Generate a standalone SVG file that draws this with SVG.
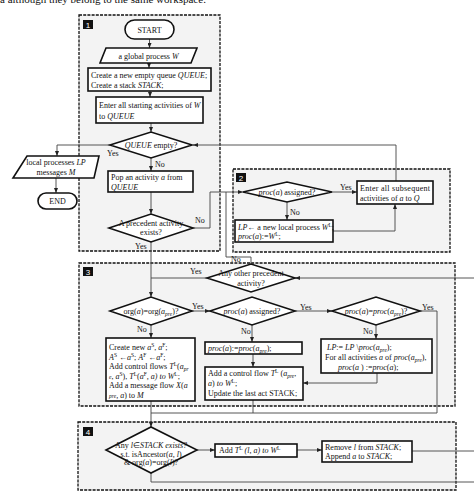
<svg xmlns="http://www.w3.org/2000/svg" width="474" height="491" viewBox="0 0 474 491">
<defs>
<marker id="ah" markerWidth="5" markerHeight="4" refX="5" refY="2" orient="auto" markerUnits="userSpaceOnUse">
<path d="M0,0 L5,2 L0,4 z" fill="#222"/>
</marker>
<style>
text{font-family:"Liberation Serif","Times New Roman",serif;font-size:8px;fill:#111}
.c{text-anchor:middle}
.i{font-style:italic}
.sec{fill:#f3f3f3;stroke:#111;stroke-width:1.3;stroke-dasharray:3 1.2}
.box{fill:#fff;stroke:#111;stroke-width:1.6}
.dia{fill:#fff;stroke:#111;stroke-width:1.6}
.lab{fill:#111}
.labt{fill:#fff;font-family:"Liberation Sans",Arial,sans-serif;font-size:8px;text-anchor:middle}
.cn{fill:none;stroke:#444;stroke-width:0.9}
.ca{fill:none;stroke:#444;stroke-width:0.9;marker-end:url(#ah)}
.sm{font-size:5.5px}
</style>
</defs>
<rect width="474" height="491" fill="#fff"/>
<text x="0" y="3" style="font-size:11px">a although they belong to the same workspace.</text>

<g id="section1">
<rect class="sec" x="79" y="15" width="141" height="236"/>
<rect class="lab" x="83" y="20" width="10" height="9"/><text class="labt" x="88" y="27.5">1</text>
</g>
<g id="section2">
<rect class="sec" x="233" y="169" width="217" height="83"/>
<rect class="lab" x="236" y="173" width="10" height="9"/><text class="labt" x="241" y="180.5">2</text>
</g>
<g id="section3">
<rect class="sec" x="79" y="263" width="376" height="143"/>
<rect class="lab" x="83" y="267" width="10" height="9"/><text class="labt" x="88" y="274.5">3</text>
</g>
<g id="section4">
<rect class="sec" x="78" y="422" width="378" height="68"/>
<rect class="lab" x="83" y="427" width="10" height="9"/><text class="labt" x="88" y="434.5">4</text>
</g>

<g id="connectors">
<path class="ca" d="M149.5,39 V48"/>
<path class="ca" d="M149,63 V68"/>
<path class="ca" d="M150,91 V97"/>
<path class="ca" d="M151,123 V132"/>
<path class="ca" d="M151,158 V171"/>
<path class="ca" d="M151,192 V214"/>
<path class="ca" d="M110,145 H57 V156"/>
<path class="ca" d="M56,178 V193"/>
<path class="ca" d="M396,181 V145 H193"/>
<path class="ca" d="M332,192 H357"/>
<path class="ca" d="M287,202 V220"/>
<path class="ca" d="M333,231 H395 V204"/>
<path class="ca" d="M193,228 H210 V192 H243"/>
<path class="cn" d="M251,264 V257 H226 V192"/>
<path class="ca" d="M474,278 H295"/>
<path class="cn" d="M207,278 H151"/>
<path class="ca" d="M151,242 V297"/>
<path class="ca" d="M192,311 H210"/>
<path class="ca" d="M295,311 H332"/>
<path class="cn" d="M420,311 H437 V413 H151"/>
<path class="ca" d="M151,325 V338"/>
<path class="ca" d="M252,325 V342"/>
<path class="ca" d="M376,325 V339"/>
<path class="ca" d="M253,354 V367"/>
<path class="ca" d="M377,373 V383 H303"/>
<path class="cn" d="M253,400 V413"/>
<path class="ca" d="M151,401 V427"/>
<path class="ca" d="M197,450 H215"/>
<path class="ca" d="M297,450 H322"/>
<path class="cn" d="M412,451 H474"/>
<path class="cn" d="M151,473 V482 H474"/>
<text x="107" y="156">Yes</text>
<text x="155" y="167">No</text>
<text x="195" y="223">No</text>
<text x="340" y="190">Yes</text>
<text x="290" y="215">No</text>
<text x="231" y="262">No</text>
<text x="135" y="249">Yes</text>
<text x="190" y="274">Yes</text>
<text x="192" y="309">Yes</text>
<text x="300" y="310">Yes</text>
<text x="422" y="310">Yes</text>
<text x="137" y="332">No</text>
<text x="241" y="334">No</text>
<text x="363" y="334">No</text>
</g>

<g id="start">
<rect class="box" x="125" y="20" width="49" height="19" rx="9.5"/>
<text class="c" x="149.5" y="33">START</text>
</g>
<g id="global-process">
<polygon class="box" points="106,48 197,48 191,63 100,63"/>
<text class="c" x="148.5" y="58.5">a global process <tspan class="i">W</tspan></text>
</g>
<g id="create-queue">
<rect class="box" x="88" y="68" width="123" height="23"/>
<text x="91" y="77.5">Create a new empty queue <tspan class="i">QUEUE</tspan>;</text>
<text x="91" y="88">Create a stack <tspan class="i">STACK</tspan>;</text>
</g>
<g id="enter-starting">
<rect class="box" x="96" y="97" width="107" height="26"/>
<text x="99" y="107.5">Enter all starting activities of <tspan class="i">W</tspan></text>
<text x="99" y="118.5">to <tspan class="i">QUEUE</tspan></text>
</g>
<g id="queue-empty">
<polygon class="dia" points="110,145 151,132 192,145 151,158"/>
<text class="c" x="151" y="148"><tspan class="i">QUEUE</tspan> empty?</text>
</g>
<g id="local-processes">
<polygon class="box" points="27,156 99,156 94,178 13,178"/>
<text class="c" x="56" y="165">local processes <tspan class="i">LP</tspan></text>
<text class="c" x="56" y="175">messages <tspan class="i">M</tspan></text>
</g>
<g id="end">
<rect class="box" x="38" y="193" width="39" height="16" rx="8"/>
<text class="c" x="57.5" y="204">END</text>
</g>
<g id="pop">
<rect class="box" x="108" y="171" width="85" height="21"/>
<text x="111" y="180">Pop an activity <tspan class="i">a</tspan> from</text>
<text x="111" y="189.5" class="i">QUEUE</text>
</g>
<g id="precedent-exists">
<polygon class="dia" points="109,228 151,214 193,228 151,242"/>
<text class="c" x="151" y="226">A precedent activity</text>
<text class="c" x="151" y="235">exists?</text>
</g>

<g id="proc-assigned-2">
<polygon class="dia" points="243,192 287,182 332,192 287,202"/>
<text class="c" x="287" y="195"><tspan class="i">proc</tspan>(<tspan class="i">a</tspan>) assigned?</text>
</g>
<g id="enter-subsequent">
<rect class="box" x="357" y="181" width="76" height="23"/>
<text x="360" y="190.5" textLength="70" lengthAdjust="spacing">Enter all subsequent</text>
<text x="360" y="200.5">activities of <tspan class="i">a</tspan> to <tspan class="i">Q</tspan></text>
</g>
<g id="new-local-process">
<rect class="box" x="235" y="220" width="98" height="22"/>
<text x="238" y="229.5"><tspan class="i">LP</tspan>← a new local process <tspan class="i">W</tspan><tspan class="sm" dy="-3">L</tspan><tspan dy="3">;</tspan></text>
<text x="238" y="239"><tspan class="i">proc</tspan>(<tspan class="i">a</tspan>):=<tspan class="i">W</tspan><tspan class="sm" dy="-3">L</tspan><tspan dy="3">;</tspan></text>
</g>

<g id="any-other-precedent">
<polygon class="dia" points="207,278 251,264 295,278 251,292"/>
<text class="c" x="251" y="276">Any other precedent</text>
<text class="c" x="251" y="286">activity?</text>
</g>
<g id="org-equal">
<polygon class="dia" points="110,311 151,297 192,311 151,325"/>
<text class="c" x="151" y="314">org(<tspan class="i">a</tspan>)=org(<tspan class="i">a</tspan><tspan class="sm i" dy="2">pre</tspan><tspan dy="-2">)?</tspan></text>
</g>
<g id="proc-assigned-3">
<polygon class="dia" points="210,311 252,297 295,311 252,325"/>
<text class="c" x="252" y="314"><tspan class="i">proc</tspan>(<tspan class="i">a</tspan>) assigned?</text>
</g>
<g id="proc-equal">
<polygon class="dia" points="332,311 376,297 420,311 376,325"/>
<text class="c" x="376" y="314"><tspan class="i">proc</tspan>(<tspan class="i">a</tspan>)=<tspan class="i">proc</tspan>(<tspan class="i">a</tspan><tspan class="sm i" dy="2">pre</tspan><tspan dy="-2">)?</tspan></text>
</g>
<g id="create-new">
<rect class="box" x="106" y="338" width="89" height="63"/>
<text x="109" y="350">Create new <tspan class="i">a</tspan><tspan class="sm" dy="-3">S</tspan><tspan dy="3">, </tspan><tspan class="i">a</tspan><tspan class="sm" dy="-3">F</tspan><tspan dy="3">;</tspan></text>
<text x="109" y="359.5"><tspan class="i">A</tspan><tspan class="sm" dy="-3">S</tspan><tspan dy="3"> ←</tspan><tspan class="i">a</tspan><tspan class="sm" dy="-3">S</tspan><tspan dy="3">; </tspan><tspan class="i">A</tspan><tspan class="sm" dy="-3">F</tspan><tspan dy="3"> ←</tspan><tspan class="i">a</tspan><tspan class="sm" dy="-3">F</tspan><tspan dy="3">;</tspan></text>
<text x="109" y="369">Add control flows <tspan class="i">T</tspan><tspan class="sm" dy="-3">L</tspan><tspan dy="3">(</tspan><tspan class="i">a</tspan><tspan class="sm i" dy="2">pr</tspan></text>
<text x="109" y="378.5"><tspan class="sm i">e</tspan>, <tspan class="i">a</tspan><tspan class="sm" dy="-3">S</tspan><tspan dy="3">), </tspan><tspan class="i">T</tspan><tspan class="sm" dy="-3">L</tspan><tspan dy="3">(</tspan><tspan class="i">a</tspan><tspan class="sm" dy="-3">F</tspan><tspan dy="3" class="i">, a) to W</tspan><tspan class="sm" dy="-3">L</tspan><tspan dy="3">;</tspan></text>
<text x="109" y="388">Add a message flow <tspan class="i">X</tspan>(<tspan class="i">a</tspan></text>
<text x="109" y="397.5"><tspan class="sm i">pre</tspan><tspan class="i">, a</tspan>) to <tspan class="i">M</tspan></text>
</g>
<g id="proc-assign-pre">
<rect class="box" x="205" y="342" width="97" height="12"/>
<text x="208" y="351"><tspan class="i">proc</tspan>(<tspan class="i">a</tspan>):=<tspan class="i">proc</tspan>(<tspan class="i">a</tspan><tspan class="sm i" dy="2">pre</tspan><tspan dy="-2">);</tspan></text>
</g>
<g id="add-control-flow">
<rect class="box" x="205" y="367" width="98" height="33"/>
<text x="208" y="376">Add a control flow <tspan class="i">T</tspan><tspan class="sm" dy="-3">L</tspan><tspan dy="3"> (</tspan><tspan class="i">a</tspan><tspan class="sm i" dy="2">pre</tspan><tspan dy="-2">,</tspan></text>
<text x="208" y="386"><tspan class="i">a</tspan>) <tspan class="i">to W</tspan><tspan class="sm" dy="-3">L</tspan><tspan dy="3">;</tspan></text>
<text x="208" y="396">Update the last act STACK;</text>
</g>
<g id="merge-processes">
<rect class="box" x="321" y="339" width="111" height="34"/>
<text x="327" y="350"><tspan class="i">LP</tspan>:= <tspan class="i">LP</tspan> \<tspan class="i">proc</tspan>(<tspan class="i">a</tspan><tspan class="sm i" dy="2">pre</tspan><tspan dy="-2">);</tspan></text>
<text x="325" y="360">For all activities <tspan class="i">a</tspan> of <tspan class="i">proc</tspan>(<tspan class="i">a</tspan><tspan class="sm i" dy="2">pre</tspan><tspan dy="-2">),</tspan></text>
<text x="338" y="370"><tspan class="i">proc</tspan>(<tspan class="i">a</tspan> ) :=<tspan class="i">proc</tspan>(<tspan class="i">a</tspan>);</text>
</g>

<g id="ancestor-check">
<polygon class="dia" points="106,450 151,427 197,450 151,473"/>
<text class="c" x="151" y="447.5">Any <tspan class="i">l</tspan>∈<tspan class="i">STACK exists?</tspan></text>
<text class="c" x="151" y="456.5">s.t. isAncestor(<tspan class="i">a, l</tspan>)</text>
<text class="c" x="151" y="465">&amp; org(<tspan class="i">a</tspan>)=org(<tspan class="i">l</tspan>)?</text>
</g>
<g id="add-tl">
<rect class="box" x="215" y="444" width="82" height="13"/>
<text x="219" y="453">Add <tspan class="i">T</tspan><tspan class="sm" dy="-3">L</tspan><tspan dy="3" class="i"> (l, a) to W</tspan><tspan class="sm" dy="-3">L</tspan></text>
</g>
<g id="remove-append">
<rect class="box" x="322" y="441" width="90" height="21"/>
<text x="325" y="449.5">Remove <tspan class="i">l</tspan> from <tspan class="i">STACK</tspan>;</text>
<text x="325" y="459">Append <tspan class="i">a</tspan> to <tspan class="i">STACK</tspan>;</text>
</g>
</svg>
